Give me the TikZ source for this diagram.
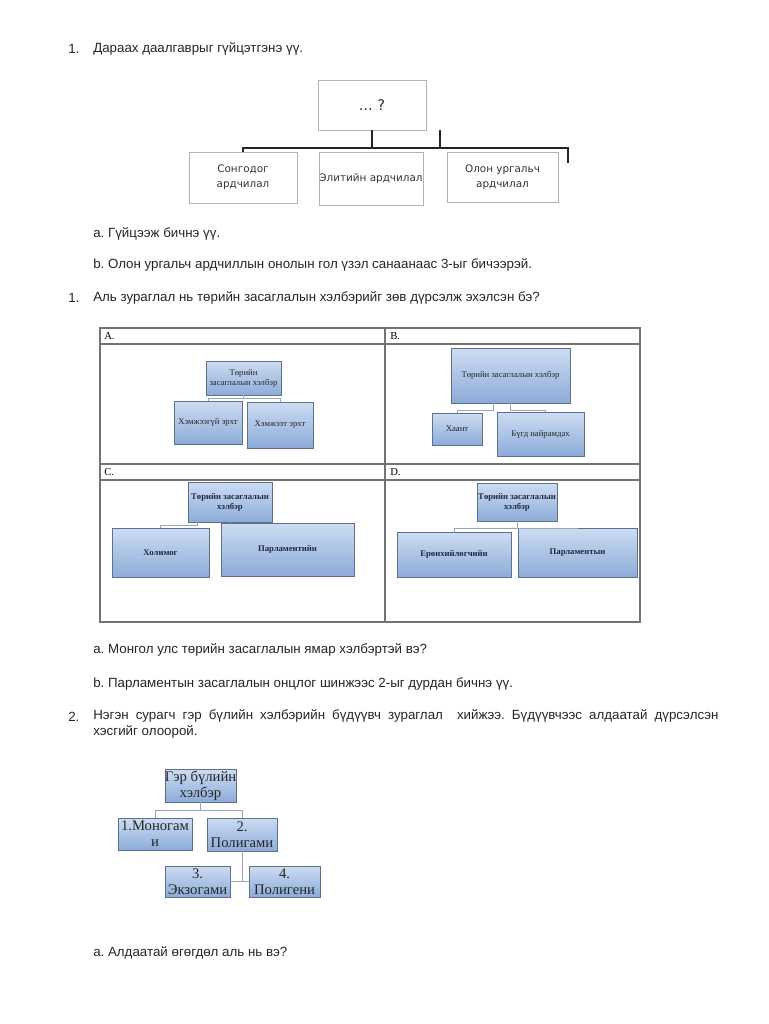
\documentclass[tikz,border=0pt]{standalone}
\usepackage{fontspec}
\setmainfont{Liberation Sans}
\newfontfamily\timesfont{Liberation Serif}
\newfontfamily\verdfont{DejaVu Sans}
\usetikzlibrary{calc,shadows}
\frenchspacing

\definecolor{boxtop}{RGB}{205,220,242}
\definecolor{boxbot}{RGB}{140,172,216}
\definecolor{boxline}{RGB}{95,112,140}
\definecolor{linkcol}{RGB}{150,165,185}

\tikzset{
  spot/.style args={#1/#2/#3/#4}{at={({(#1+#3)/2},{(#2+#4)/2})},
    minimum width={(#3-#1)*0.75pt}, minimum height={(#4-#2)*0.75pt}},
  txt/.style={anchor=west, inner sep=0pt, text=black!85, font=\fontsize{10}{12}\selectfont},
  greybox/.style={draw=black!30, fill=white, inner sep=0pt, align=center, text=black!80,
    font=\verdfont\fontsize{7.8}{11}\selectfont,
    drop shadow={opacity=0.2, shadow xshift=1pt, shadow yshift=-1pt}},
  heavy/.style={line width=2.2pt, black!85},
  bluebox/.style={draw=boxline, top color=boxtop, bottom color=boxbot, inner sep=0pt,
    align=center, text=black!85, font=\timesfont\fontsize{6.5}{7.5}\selectfont},
  boldbox/.style={bluebox, font=\timesfont\bfseries\fontsize{6.5}{7.5}\selectfont, text={rgb,255:red,30;green,40;blue,70}},
  bigbox/.style={bluebox, font=\timesfont\fontsize{11}{12}\selectfont},
  link/.style={draw=linkcol, line width=0.6pt},
  gridline/.style={draw=black!55, line width=0.8pt},
  cell/.style={anchor=west, inner sep=0pt, font=\timesfont\fontsize{8}{9}\selectfont}
}

\begin{document}
\begin{tikzpicture}[x=0.75pt,y=-0.75pt]
  \useasboundingbox[fill=white] (0,0) rectangle (768,1024);

  % first task
  \node[txt] (n1) at (68,49) {1.};
  \node[txt] (q1) at (93,49) {Дараах даалгаврыг гүйцэтгэнэ үү.};

  \node[greybox, spot=318/80/426/130, font=\verdfont\fontsize{11}{13}\selectfont] (tq) {... ?};
  \node[greybox, spot=189/152/297/203] (s1) {Сонгодог\\ардчилал};
  \node[greybox, spot=319/152/423/205] (s2) {Элитийн ардчилал};
  \node[greybox, spot=447/152/558/202] (s3) {Олон ургальч\\ардчилал};

  \coordinate (barR) at (568,148);
  \draw[heavy] (tq.south) -- (tq.south |- barR);
  \draw[heavy] (s1.north) -- (s1.north |- barR) -- (barR) -- ++(0,15);
  \draw[heavy] ($(tq.south)+(68,0)$) -- ++(0,18);

  \node[txt] (q1a) at (93,234) {a. Гүйцээж бичнэ үү.};
  \node[txt] (q1b) at (93,265) {b. Олон ургальч ардчиллын онолын гол үзэл санаанаас 3-ыг бичээрэй.};

  % second task
  \node[txt] (n2) at (68,298) {1.};
  \node[txt] (q2) at (93,298) {Аль зураглал нь төрийн засаглалын хэлбэрийг зөв дүрсэлж эхэлсэн бэ?};

  \draw[gridline] (100,328) rectangle (640,622);
  \draw[gridline] (385,328) -- (385,622);
  \draw[gridline] (100,344) -- (640,344);
  \draw[gridline] (100,464) -- (640,464);
  \draw[gridline] (100,480) -- (640,480);
  \node[cell] (la) at (104,336) {A.};
  \node[cell] (lb) at (390,336) {B.};
  \node[cell] (lc) at (104,472) {C.};
  \node[cell] (ld) at (390,472) {D.};

  % A
  \node[bluebox, spot=206/361/281/395] (aTop) {Төрийн\\засаглалын хэлбэр};
  \node[bluebox, spot=174/401/242/444] (aLeft) {Хэмжээгүй эрхт};
  \node[bluebox, spot=247/402/313/448] (aRight) {Хэмжээт эрхт};
  \draw[link] (aTop.south) -- ++(0,3) -| (aLeft.north);
  \draw[link] (aTop.south) -- ++(0,3) -| (aRight.north);

  % B
  \node[bluebox, spot=451/348/570/403] (bTop) {Төрийн засаглалын хэлбэр};
  \node[bluebox, spot=432/413/482/445] (bLeft) {Хаант};
  \node[bluebox, spot=497/412/584/456] (bRight) {Бүгд найрамдах};
  \draw[link] ($(bTop.south)+(-17,0)$) -- ++(0,7) -| (bLeft.north);
  \draw[link] (bTop.south) -- ++(0,7) -| ($(bRight.north)+(5,0)$);

  % C
  \node[boldbox, spot=188/482/272/522] (cTop) {Төрийн засаглалын\\хэлбэр};
  \node[boldbox, spot=112/528/209/577] (cLeft) {Холимог};
  \node[boldbox, spot=221/523/354/576] (cRight) {Парламентийн};
  \draw[link] ($(cTop.south)+(-33,0)$) -- ++(0,3) -| (cLeft.north);
  \draw[link] (cTop.south) -- (cTop.south |- cRight.north);

  % D
  \node[boldbox, spot=477/483/557/521] (dTop) {Төрийн засаглалын\\хэлбэр};
  \node[boldbox, spot=397/532/511/577] (dLeft) {Ерөнхийлөгчийн};
  \node[boldbox, spot=518/528/637/577] (dRight) {Парламентын};
  \draw[link] (dTop.south) -- ++(0,7) -| (dLeft.north);
  \draw[link] (dTop.south) -- ++(0,7) -| (dRight.north);

  \node[txt] (q2a) at (93,650) {a. Монгол улс төрийн засаглалын ямар хэлбэртэй вэ?};
  \node[txt] (q2b) at (93,684) {b. Парламентын засаглалын онцлог шинжээс 2-ыг дурдан бичнэ үү.};

  % third task
  \node[txt] (n3) at (68,717) {2.};
  \node[txt, anchor=north west, text width=469pt, align=justify, yshift=5.5pt] (q3) at (93,717)
    {Нэгэн сурагч гэр бүлийн хэлбэрийн бүдүүвч зураглал\ \ хийжээ. Бүдүүвчээс алдаатай дүрсэлсэн\linebreak
     хэсгийг олоорой.};

  \node[bigbox, spot=165/769/236/802] (g0) {Гэр бүлийн\\хэлбэр};
  \node[bigbox, spot=118/818/192/850] (g1) {1.Моногам\\и};
  \node[bigbox, spot=207/818/277/851] (g2) {2.\\Полигами};
  \node[bigbox, spot=165/866/230/897] (g3) {3.\\Экзогами};
  \node[bigbox, spot=249/866/320/897] (g4) {4.\\Полигени};
  \draw[link] (g0.south) -- ++(0,8) -| (g1.north);
  \draw[link] (g0.south) -- ++(0,8) -| (g2.north);
  \draw[link] (g2.south) -- (g2.south |- g3.east);
  \draw[link] (g3.east) -- (g4.west);

  \node[txt] (q3a) at (93,953) {a. Алдаатай өгөгдөл аль нь вэ?};
\end{tikzpicture}
\end{document}
